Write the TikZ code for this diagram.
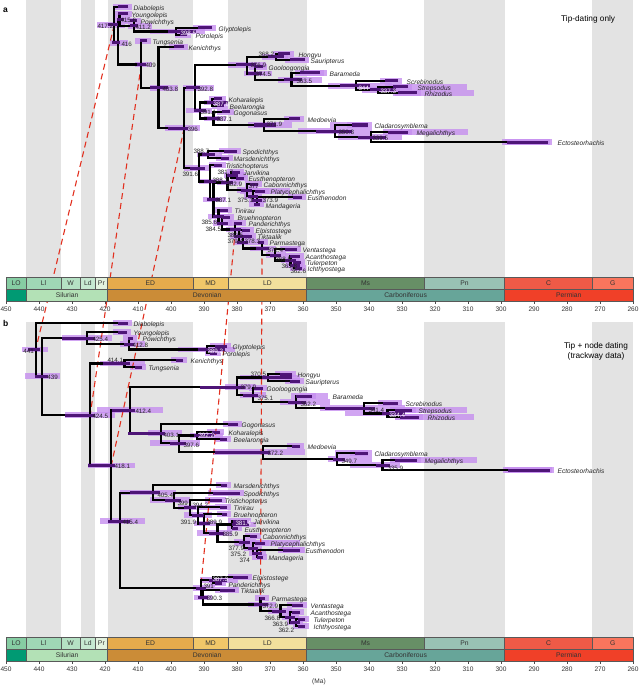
\documentclass[tikz,border=0pt]{standalone}
\usepackage{fontspec}
\setmainfont{Liberation Sans}
\pgfdeclarelayer{back}
\pgfdeclarelayer{bg}
\pgfdeclarelayer{front}
\pgfdeclarelayer{top}
\pgfsetlayers{back,bg,main,front,top}
\definecolor{bandgrey}{HTML}{E3E3E3}
\definecolor{dpurp}{HTML}{4E1577}
\definecolor{lpurp}{HTML}{C68FEF}
\definecolor{reddash}{HTML}{E2301F}
\definecolor{cLO}{HTML}{86CDA3}
\definecolor{cLI}{HTML}{9FD8B6}
\definecolor{cW}{HTML}{B5E1C4}
\definecolor{cLd}{HTML}{C6E8D1}
\definecolor{cPr}{HTML}{E2F2DF}
\definecolor{cED}{HTML}{E5AB4C}
\definecolor{cMD}{HTML}{F1C769}
\definecolor{cLD}{HTML}{F2E09C}
\definecolor{cMs}{HTML}{678F66}
\definecolor{cPn}{HTML}{99C2B4}
\definecolor{cC}{HTML}{EF5A47}
\definecolor{cG}{HTML}{FA755D}
\definecolor{cOrd}{HTML}{009A73}
\definecolor{cSil}{HTML}{B3E1B6}
\definecolor{cDev}{HTML}{CB8C37}
\definecolor{cCar}{HTML}{67A599}
\definecolor{cPer}{HTML}{F04028}
\tikzset{
 declare function={ax(\x)=1491-3.3*\x;},
 br/.style={line width=2.2bp, black},
 lpb/.style={line width=5.2bp, lpurp, opacity=0.8},
 dpb/.style={line width=3bp, dpurp},
 tl/.style={font=\fontsize{6.6}{7}\selectfont\itshape, text=black!85, inner sep=0.5bp, text height=0.7em, text depth=0pt, anchor=west},
 nlab/.style={font=\fontsize{6.3}{7}\selectfont, text=black!85, inner sep=0.3bp, text height=0.7em, text depth=0pt, anchor=west},
 nlabw/.style={nlab, text=white},
 rdash/.style={reddash, line width=1.1bp, dash pattern=on 6bp off 4bp},
 tbx/.style={draw=black!65, line width=0.5bp},
 tbt/.style={font=\fontsize{6.8}{7}\selectfont, text=black!80, inner sep=0pt},
 tick/.style={draw=black!70, line width=0.5bp},
 axl/.style={font=\fontsize{6.6}{7}\selectfont, text=black!80, inner sep=0pt},
}
% node: name, age, y, light x1, x2, dark x1, x2, label x, label y
\newcommand\NDX[9]{%
 \coordinate (#1) at ({ax(#2)},#3);
 \begin{pgfonlayer}{bg}\draw[lpb] (#4,#3) -- (#5,#3);\end{pgfonlayer}
 \begin{pgfonlayer}{front}\draw[dpb] (#6,#3) -- (#7,#3);\end{pgfonlayer}
 \begin{pgfonlayer}{top}\node[\labstyle] (#1t) at (#8,#9) {#2};\end{pgfonlayer}}
\newcommand\labstyle{nlab}
\newcommand\ND{\renewcommand\labstyle{nlab}\NDX}
\newcommand\NDW{\renewcommand\labstyle{nlabw}\NDX}
% tip: name, tip x, y, dark start x, label x, text
\newcommand\TP[6]{%
 \coordinate (#1) at (#2,#3);
 \begin{pgfonlayer}{bg}\draw[lpb] ({#4-5},#3) -- ({#2+4},#3);\end{pgfonlayer}
 \begin{pgfonlayer}{front}\draw[dpb] (#4,#3) -- (#2,#3);\end{pgfonlayer}
 \begin{pgfonlayer}{top}\node[tl] (#1t) at (#5,#3) {#6};\end{pgfonlayer}}
% tip with label at another y: name, tip x, y, dark start, label x, label y, text
\newcommand\TPY[7]{%
 \coordinate (#1) at (#2,#3);
 \begin{pgfonlayer}{bg}\draw[lpb] ({#4-5},#3) -- ({#2+4},#3);\end{pgfonlayer}
 \begin{pgfonlayer}{front}\draw[dpb] (#4,#3) -- (#2,#3);\end{pgfonlayer}
 \begin{pgfonlayer}{top}\node[tl] (#1t) at (#5,#6) {#7};\end{pgfonlayer}}
\newcommand\LB[3]{\begin{pgfonlayer}{bg}\draw[lpb] (#1,#3) -- (#2,#3);\end{pgfonlayer}}
\newcommand\BR[3]{\draw[br] (#2) -| (#1) |- (#3);}
\newcommand\TB[7]{\draw[tbx, fill=#5] ({ax(#1)},{#3}) rectangle ({ax(#2)},{#4}) node[tbt, pos=.5] (#7) {#6};}
\newcommand\TIMEBAR[2]{%
 \TB{450}{443.8}{#1}{#1+12}{cLO}{LO}{#2sLO}
 \TB{443.8}{433.4}{#1}{#1+12}{cLI}{Ll}{#2sLI}
 \TB{433.4}{427.4}{#1}{#1+12}{cW}{W}{#2sW}
 \TB{427.4}{423}{#1}{#1+12}{cLd}{Ld}{#2sLd}
 \TB{423}{419.2}{#1}{#1+12}{cPr}{Pr}{#2sPr}
 \TB{419.2}{393.3}{#1}{#1+12}{cED}{ED}{#2sED}
 \TB{393.3}{382.7}{#1}{#1+12}{cMD}{MD}{#2sMD}
 \TB{382.7}{358.9}{#1}{#1+12}{cLD}{LD}{#2sLD}
 \TB{358.9}{323.2}{#1}{#1+12}{cMs}{Ms}{#2sMs}
 \TB{323.2}{298.9}{#1}{#1+12}{cPn}{Pn}{#2sPn}
 \TB{298.9}{272.3}{#1}{#1+12}{cC}{C}{#2sC}
 \TB{272.3}{260}{#1}{#1+12}{cG}{G}{#2sG}
 \TB{450}{443.8}{#1+12}{#1+24}{cOrd}{}{#2pO}
 \TB{443.8}{419.2}{#1+12}{#1+24}{cSil}{Silurian}{#2pS}
 \TB{419.2}{358.9}{#1+12}{#1+24}{cDev}{Devonian}{#2pD}
 \TB{358.9}{298.9}{#1+12}{#1+24}{cCar}{Carboniferous}{#2pC}
 \TB{298.9}{260}{#1+12}{#1+24}{cPer}{Permian}{#2pP}
 \foreach \v in {450,440,...,260}{\draw[tick] ({ax(\v)},{#1+24}) -- ({ax(\v)},{#1+27}); \node[axl] (#2ax\v) at ({ax(\v)},{#1+32}) {\v};}}
\begin{document}
\begin{tikzpicture}[x=1bp,y=-1bp]
\useasboundingbox (0,0) rectangle (640,685);
\begin{pgfonlayer}{back}
\foreach \p/\q in {443.8/433.4, 427.4/423, 419.2/393.3, 382.7/358.9, 323.2/298.9, 272.3/260}{
 \fill[bandgrey] ({ax(\p)},0) rectangle ({ax(\q)},277);
 \fill[bandgrey] ({ax(\p)},322) rectangle ({ax(\q)},637);}
\end{pgfonlayer}
\node[font=\fontsize{8.5}{9}\selectfont\bfseries, anchor=west, inner sep=0] (pa) at (3,10) {a};
\node[font=\fontsize{8.5}{9}\selectfont\bfseries, anchor=west, inner sep=0] (pb) at (3,323) {b};
\node[font=\fontsize{8.3}{9}\selectfont, anchor=west, inner sep=0] (ta) at (561,19) {Tip-dating only};
\node[font=\fontsize{8.3}{10}\selectfont, align=center, inner sep=0] (tb) at (596,351) {Tip + node dating\\(trackway data)};
% ===== panel a =====
\ND{a4172}{417.2}{25}{97}{125}{108}{118}{97}{25}
\ND{a416}{416}{43}{110}{128}{112}{120}{121}{43}
\ND{a4156}{415.6}{20}{115}{130}{117}{124}{120}{19}
\ND{a4112}{411.2}{26}{128}{152}{130}{138}{135}{26}
\NDW{a3985}{398.5}{31.5}{150}{205}{168}{196}{180}{32}
\ND{a409}{409}{64.5}{135}{152}{137}{146}{145}{64}
\ND{a4038}{403.8}{88}{150}{178}{150}{168}{162}{88}
\ND{a396}{396}{128}{165}{200}{168}{188}{187}{128}
\ND{a3928}{392.8}{88}{183}{214}{186}{200}{197}{88}
\ND{a3769}{376.9}{65}{228}{266}{236}{256}{250}{64}
\ND{a3682}{368.2}{57}{262}{288}{268}{284}{258}{53}
\ND{a3745}{374.5}{73.5}{244}{272}{248}{262}{255}{73}
\ND{a3635}{363.5}{80}{278}{322}{284}{302}{296}{80}
\NDW{a344}{344}{86}{328}{392}{340}{370}{358}{87}
\NDW{a3373}{337.3}{90}{362}{400}{370}{396}{380}{90}
\ND{a3911}{391.1}{110.5}{186}{212}{194}{206}{200}{111}
\NDW{a3876}{387.6}{102.5}{204}{226}{207}{228}{213}{103}
\ND{a3871}{387.1}{118.5}{204}{226}{207}{220}{216}{118}
\ND{a3719}{371.9}{125}{248}{292}{254}{276}{266}{123}
\ND{a3503}{350.3}{131}{298}{372}{316}{352}{338}{131}
\ND{a3395}{339.5}{137}{338}{402}{358}{386}{372}{137}
\ND{a3916}{391.6}{168}{184}{210}{190}{205}{182}{173}
\ND{a3887}{388.7}{154.5}{197}{222}{202}{215}{193}{150}
\ND{a3881}{388.1}{181.5}{199}{222}{204}{216}{212}{179}
\ND{a3871b}{387.1}{199.5}{203}{226}{207}{220}{215}{199}
\ND{a3829}{382.9}{182.5}{217}{240}{221}{233}{226}{183}
\ND{a3817}{381.7}{175}{224}{246}{227}{238}{217}{171}
\ND{a377}{377}{190}{237}{258}{241}{252}{248}{185}
\ND{a3751}{375.1}{196}{244}{262}{248}{258}{237}{199}
\ND{a3739}{373.9}{200.5}{249}{266}{252}{262}{262}{199.5}
\ND{a3856}{385.6}{216.5}{208}{229}{213}{224}{201}{221}
\ND{a3845}{384.5}{223}{213}{232}{217}{228}{205}{228}
\ND{a3805}{380.5}{229.5}{226}{246}{230}{241}{227}{234}
\ND{a3794}{379.4}{236}{230}{249}{234}{244}{227}{240}
\ND{a3783}{378.3}{242}{234}{253}{237}{248}{244}{240}
\ND{a3724}{372.4}{248.5}{250}{276}{256}{269}{267}{249}
\ND{a3685}{368.5}{255}{266}{286}{270}{281}{275}{258}
\ND{a3638}{363.8}{260.5}{281}{299}{285}{296}{281}{265}
\ND{a3626}{362.6}{265}{286}{303}{290}{300}{290}{270}
\TP{aDia}{128}{7}{118}{133}{Diabolepis}
\TP{aYou}{128}{14}{118}{131}{Youngolepis}
\TP{aPow}{137}{21}{130}{140}{Powichthys}
\TP{aGly}{212}{28}{198}{218}{Glyptolepis}
\TP{aPor}{187}{35}{180}{195}{Porolepis}
\TP{aTun}{147}{41}{140}{152}{Tungsenia}
\TP{aKen}{184}{47}{174}{188}{Kenichthys}
\TP{aHon}{290}{54}{278}{298}{Hongyu}
\TP{aSau}{305}{60}{290}{310}{Sauripterus}
\TP{aGoo}{263}{67}{254}{268}{Gooloogongia}
\TP{aBar}{320}{73}{300}{329}{Barameda}
\TP{aScr}{398}{81}{385}{406}{Screbinodus}
\TP{aStr}{408}{87}{393}{417}{Strepsodus}
\TP{aRhi}{417}{93}{398}{424}{Rhizodus}
\TP{aKoh}{222}{99}{214}{228}{Koharalepis}
\TP{aBee}{224}{106}{217}{229}{Beelarongia}
\TP{aGog}{230}{112}{222}{233}{Gogonasus}
\TP{aMed}{300}{119}{289}{307}{Medoevia}
\TP{aCla}{368}{125}{352}{374}{Cladarosymblema}
\TP{aMeg}{408}{132}{388}{416}{Megalichthys}
\TP{aEct}{548}{142}{507}{557}{Ectosteorhachis}
\TP{aSpo}{237}{151}{224}{242}{Spodichthys}
\TP{aMar}{229}{158}{221}{233}{Marsdenichthys}
\TP{aTri}{222}{165}{214}{225}{Tristichopterus}
\TP{aJar}{240}{172}{232}{243}{Jarvikina}
\TP{aEus}{244}{178}{236}{248}{Eusthenopteron}
\TP{aCab}{258}{184}{250}{263}{Cabonnichthys}
\TP{aPla}{265}{191}{255}{270}{Platycephalichthys}
\TP{aEun}{302}{197}{293}{307}{Eusthenodon}
\TPY{aMan}{260}{204}{254}{265}{205.5}{Mandageria}
\TP{aTin}{228}{210}{220}{234}{Tinirau}
\TP{aBru}{230}{217}{222}{237}{Bruehnopteron}
\TP{aPan}{242}{223}{234}{248}{Panderichthys}
\TP{aElp}{250}{230}{242}{255}{Elpistostege}
\TP{aTik}{252}{236}{244}{257}{Tiktaalik}
\TP{aPar}{264}{242}{258}{269}{Parmastega}
\TP{aVen}{297}{249}{285}{302}{Ventastega}
\TP{aAca}{300}{256}{290}{305}{Acanthostega}
\TP{aTul}{301}{262}{293}{306}{Tulerpeton}
\TP{aIch}{302}{268}{295}{307}{Ichthyostega}
\LB{300}{327}{73}\LB{385}{467}{87}\LB{395}{474}{93}\LB{390}{468}{132}
\LB{330}{368}{125}\LB{505}{550}{142}\LB{240}{290}{191}
\BR{a4172}{aDia}{a416}
\BR{a416}{a4156}{a409}
\BR{a4156}{aYou}{a4112}
\BR{a4112}{aPow}{a3985}
\BR{a3985}{aGly}{aPor}
\BR{a409}{aTun}{a4038}
\BR{a4038}{aKen}{a396}
\BR{a396}{a3928}{a3916}
\BR{a3928}{a3769}{a3911}
\BR{a3769}{a3682}{a3745}
\BR{a3682}{aHon}{aSau}
\BR{a3745}{aGoo}{a3635}
\BR{a3635}{aBar}{a344}
\BR{a344}{aScr}{a3373}
\BR{a3373}{aStr}{aRhi}
\BR{a3911}{a3876}{a3871}
\BR{a3876}{aKoh}{aBee}
\BR{a3871}{aGog}{a3719}
\BR{a3719}{aMed}{a3503}
\BR{a3503}{aCla}{a3395}
\BR{a3395}{aMeg}{aEct}
\BR{a3916}{a3887}{a3881}
\BR{a3887}{aSpo}{aMar}
\BR{a3881}{aTri}{a3871b}
\BR{a3871b}{a3829}{a3856}
\BR{a3829}{a3817}{a377}
\BR{a3817}{aJar}{aEus}
\BR{a377}{aCab}{a3751}
\BR{a3751}{aPla}{a3739}
\BR{a3739}{aEun}{aMan}
\BR{a3856}{aTin}{a3845}
\BR{a3845}{aBru}{a3805}
\BR{a3805}{aPan}{a3794}
\BR{a3794}{aElp}{a3783}
\BR{a3783}{aTik}{a3724}
\BR{a3724}{aPar}{a3685}
\BR{a3685}{aVen}{a3638}
\BR{a3638}{aAca}{a3626}
\BR{a3626}{aTul}{aIch}
% ===== panel b =====
\ND{b441}{441}{349.5}{22}{48}{28}{40}{23}{350}
\ND{b439}{439}{376}{25}{60}{35}{48}{47}{376}
\ND{b4254}{425.4}{338}{62}{112}{62}{95}{92}{338}
\ND{b4128}{412.8}{344}{120}{145}{124}{134}{132}{344}
\NDW{b3892}{389.2}{349.5}{178}{235}{198}{225}{207}{350}
\ND{b4245}{424.5}{415}{65}{115}{65}{95}{92}{415}
\ND{b4141}{414.1}{363.5}{100}{145}{103}{130}{107}{359}
\ND{b4181}{418.1}{465.5}{88}{135}{88}{115}{114}{465}
\ND{b4124}{412.4}{410}{97}{163}{112}{135}{135}{410}
\ND{b3799}{379.9}{387}{225}{256}{200}{245}{240}{386}
\ND{b3705}{370.5}{377.5}{240}{300}{262}{292}{250}{373}
\ND{b3751}{375.1}{395}{240}{266}{243}{258}{257}{397}
\ND{b3622}{362.2}{402}{280}{330}{288}{306}{300}{403}
\ND{b3414}{341.4}{408}{320}{405}{325}{375}{368}{409}
\NDW{b3344}{334.4}{413.5}{345}{405}{382}{405}{389}{414}
\ND{b4031}{403.1}{433}{148}{182}{128}{165}{163}{434}
\ND{b3976}{397.6}{443}{150}{200}{170}{186}{183}{444}
\NDW{b3922}{392.2}{435.5}{190}{223}{194}{214}{198}{434}
\ND{b3722}{372.2}{452}{213}{305}{215}{270}{267}{452}
\ND{b3497}{349.7}{459}{328}{372}{333}{345}{341}{460}
\ND{b3359}{335.9}{465}{350}{400}{376}{390}{387}{467}
\ND{b4154}{415.4}{521}{100}{145}{108}{130}{122}{521}
\ND{b4054}{405.4}{492.7}{120}{176}{130}{160}{157}{494}
\ND{b399}{399}{500}{150}{190}{165}{181}{177}{502}
\ND{b3942}{394.2}{507.6}{178}{215}{184}{196}{192}{504}
\ND{b3919}{391.9}{515}{184}{212}{192}{204}{180}{521}
\ND{b3899}{389.9}{523.6}{194}{216}{199}{210}{206}{521}
\ND{b3859}{385.9}{533}{197}{232}{209}{224}{222}{533}
\NDW{b3814}{381.4}{524.5}{229}{256}{232}{249}{235}{522.5}
\ND{b3779}{377.9}{542}{234}{256}{239}{250}{228}{547}
\ND{b3752}{375.2}{548.25}{244}{262}{248}{258}{230}{553}
\ND{b374}{374}{553.5}{249}{266}{252}{262}{239}{559}
\ND{b391}{391}{588}{193}{215}{196}{206}{203}{585}
\NDW{b3873}{387.3}{580}{200}{238}{209}{227}{212}{578.5}
\ND{b3903}{390.3}{597.5}{194}{212}{198}{208}{206}{597}
\ND{b3729}{372.9}{604.5}{248}{276}{254}{268}{262}{605}
\ND{b3668}{366.8}{611}{268}{292}{272}{286}{264}{617}
\ND{b3639}{363.9}{617}{282}{299}{285}{295}{272}{623}
\ND{b3622b}{362.2}{622.5}{287}{303}{290}{300}{278}{629}
\TP{bDia}{128}{323}{118}{133}{Diabolepis}
\TP{bYou}{127}{332}{118}{133}{Youngolepis}
\TP{bPow}{133}{338}{128}{142}{Powichthys}
\TP{bGly}{227}{346}{215}{232}{Glyptolepis}
\TP{bPor}{217}{353}{210}{222}{Porolepis}
\TP{bKen}{183}{360}{176}{190}{Kenichthys}
\TP{bTun}{142}{367}{135}{148}{Tungsenia}
\TP{bHon}{292}{374}{280}{297}{Hongyu}
\TP{bSau}{300}{381}{290}{305}{Sauripterus}
\TP{bGoo}{263}{388}{254}{266}{Gooloogongia}
\TP{bBar}{312}{396}{296}{332}{Barameda}
\TP{bScr}{398}{403}{383}{405}{Screbinodus}
\TP{bStr}{412}{410}{395}{418}{Strepsodus}
\TP{bRhi}{419}{417}{400}{427}{Rhizodus}
\TP{bGog}{238}{424}{228}{241}{Gogonasus}
\TP{bKoh}{220}{432}{212}{228}{Koharalepis}
\TP{bBee}{227}{439}{220}{233}{Beelarongia}
\TP{bMed}{300}{446}{292}{307}{Medoevia}
\TP{bCla}{368}{453}{355}{374}{Cladarosymblema}
\TP{bMeg}{417}{460}{395}{424}{Megalichthys}
\TP{bEct}{550}{470}{508}{557}{Ectosteorhachis}
\TP{bMar}{227}{485}{221}{233}{Marsdenichthys}
\TP{bSpo}{240}{493}{213}{243}{Spodichthys}
\TP{bTri}{222}{500}{210}{224}{Tristichopterus}
\TP{bTin}{227}{507}{220}{233}{Tinirau}
\TP{bBru}{227}{514}{222}{233}{Bruehnopteron}
\TP{bJar}{247}{521}{233}{253}{Jarvikina}
\TPY{bEus}{238}{528}{232}{244}{529.5}{Eusthenopteron}
\TP{bCab}{257}{536}{250}{262}{Cabonnichthys}
\TP{bPla}{265}{543}{255}{270}{Platycephalichthys}
\TP{bEun}{300}{550}{283}{305}{Eusthenodon}
\TP{bMan}{263}{557}{257}{268}{Mandageria}
\TP{bElp}{248}{577}{233}{252}{Elpistostege}
\TPY{bPan}{222}{583}{215}{228}{584}{Panderichthys}
\TP{bTik}{235}{590}{220}{240}{Tiktaalik}
\TP{bPar}{265}{598}{260}{271}{Parmastega}
\TP{bVen}{303}{605}{292}{310}{Ventastega}
\TP{bAca}{300}{612}{292}{310}{Acanthostega}
\TP{bTul}{305}{619}{298}{313}{Tulerpeton}
\TP{bIch}{305}{626}{298}{313}{Ichthyostega}
\LB{300}{328}{396}\LB{390}{467}{410}\LB{395}{474}{417}\LB{400}{477}{460}
\LB{335}{368}{453}\LB{505}{552}{470}\LB{235}{300}{543}\LB{280}{305}{550}
\BR{b441}{bDia}{b439}
\BR{b439}{b4254}{b4245}
\BR{b4254}{bYou}{b4128}
\BR{b4128}{bPow}{b3892}
\BR{b3892}{bGly}{bPor}
\BR{b4245}{b4141}{b4181}
\BR{b4141}{bKen}{bTun}
\BR{b4181}{b4124}{b4154}
\BR{b4124}{b3799}{b4031}
\BR{b3799}{b3705}{b3751}
\BR{b3705}{bHon}{bSau}
\BR{b3751}{bGoo}{b3622}
\BR{b3622}{bBar}{b3414}
\BR{b3414}{bScr}{b3344}
\BR{b3344}{bStr}{bRhi}
\BR{b4031}{bGog}{b3976}
\BR{b3976}{b3922}{b3722}
\BR{b3922}{bKoh}{bBee}
\BR{b3722}{bMed}{b3497}
\BR{b3497}{bCla}{b3359}
\BR{b3359}{bMeg}{bEct}
\BR{b4154}{b4054}{b391}
\BR{b4054}{bMar}{b399}
\BR{b399}{bSpo}{b3942}
\BR{b3942}{bTri}{b3919}
\BR{b3919}{bTin}{b3899}
\BR{b3899}{bBru}{b3859}
\BR{b3859}{b3814}{b3779}
\BR{b3814}{bJar}{bEus}
\BR{b3779}{bCab}{b3752}
\BR{b3752}{bPla}{b374}
\BR{b374}{bEun}{bMan}
\BR{b391}{b3873}{b3903}
\BR{b3873}{bElp}{bPan}
\BR{b3903}{bTik}{b3729}
\BR{b3729}{bPar}{b3668}
\BR{b3668}{bVen}{b3639}
\BR{b3639}{bAca}{b3622b}
\BR{b3622b}{bTul}{bIch}
% red dashed links
\begin{pgfonlayer}{bg}
\draw[rdash] (a4172) -- (b441);
\draw[rdash] (a409) -- (b4245);
\draw[rdash] (a396) -- (b4181);
\draw[rdash] (a3805) -- (b391);
\draw[rdash] (a3724) -- (b3729);
\end{pgfonlayer}
% time bars
\TIMEBAR{277}{t}
\TIMEBAR{637}{u}
\node[axl] (ma) at (319,682) {(Ma)};
\end{tikzpicture}
\end{document}
